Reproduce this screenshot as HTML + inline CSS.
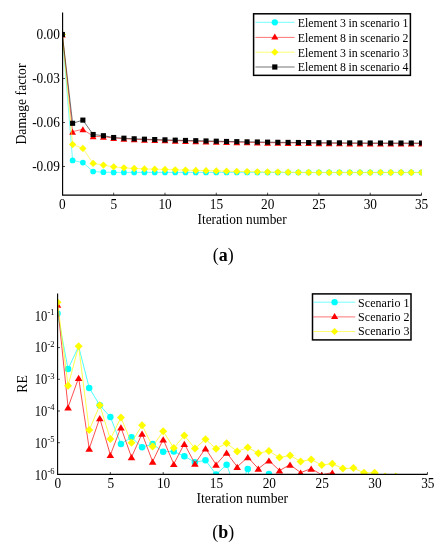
<!DOCTYPE html><html><head><meta charset="utf-8"><title>Figure</title><style>html,body{margin:0;padding:0;background:#fff}svg{display:block}</style></head><body><svg width="444" height="550" viewBox="0 0 444 550" font-family="Liberation Serif, serif" font-size="13.33px" fill="#000">
<rect width="444" height="550" fill="#fff"/>
<defs><clipPath id="ca"><rect x="62.0" y="12.6" width="359.80" height="182.50"/></clipPath>
<clipPath id="cb"><rect x="57.0" y="293.4" width="370.60" height="181.00"/></clipPath></defs>
<path d="M113.66 195.1v-2.4M164.97 195.1v-2.4M216.28 195.1v-2.4M267.59 195.1v-2.4M318.90 195.1v-2.4M370.21 195.1v-2.4M421.52 195.1v-2.4M62.6 34.5h2.4M62.6 78.5h2.4M62.6 122.5h2.4M62.6 166.5h2.4" stroke="#000" stroke-width="0.7" fill="none"/>
<g clip-path="url(#ca)">
<polyline points="62.35,34.50 72.61,160.40 82.87,162.60 93.14,171.50 103.40,172.20 113.66,172.40 123.92,172.40 134.18,172.40 144.45,172.40 154.71,172.40 164.97,172.40 175.23,172.40 185.49,172.40 195.76,172.40 206.02,172.40 216.28,172.40 226.54,172.40 236.80,172.40 247.07,172.40 257.33,172.40 267.59,172.40 277.85,172.40 288.11,172.40 298.38,172.40 308.64,172.40 318.90,172.40 329.16,172.40 339.42,172.40 349.69,172.40 359.95,172.40 370.21,172.40 380.47,172.40 390.73,172.40 401.00,172.40 411.26,172.40 421.52,172.40" fill="none" stroke="#0ff" stroke-width="0.55"/>
<circle cx="62.35" cy="34.50" r="2.85" fill="#0ff"/><circle cx="72.61" cy="160.40" r="2.85" fill="#0ff"/><circle cx="82.87" cy="162.60" r="2.85" fill="#0ff"/><circle cx="93.14" cy="171.50" r="2.85" fill="#0ff"/><circle cx="103.40" cy="172.20" r="2.85" fill="#0ff"/><circle cx="113.66" cy="172.40" r="2.85" fill="#0ff"/><circle cx="123.92" cy="172.40" r="2.85" fill="#0ff"/><circle cx="134.18" cy="172.40" r="2.85" fill="#0ff"/><circle cx="144.45" cy="172.40" r="2.85" fill="#0ff"/><circle cx="154.71" cy="172.40" r="2.85" fill="#0ff"/><circle cx="164.97" cy="172.40" r="2.85" fill="#0ff"/><circle cx="175.23" cy="172.40" r="2.85" fill="#0ff"/><circle cx="185.49" cy="172.40" r="2.85" fill="#0ff"/><circle cx="195.76" cy="172.40" r="2.85" fill="#0ff"/><circle cx="206.02" cy="172.40" r="2.85" fill="#0ff"/><circle cx="216.28" cy="172.40" r="2.85" fill="#0ff"/><circle cx="226.54" cy="172.40" r="2.85" fill="#0ff"/><circle cx="236.80" cy="172.40" r="2.85" fill="#0ff"/><circle cx="247.07" cy="172.40" r="2.85" fill="#0ff"/><circle cx="257.33" cy="172.40" r="2.85" fill="#0ff"/><circle cx="267.59" cy="172.40" r="2.85" fill="#0ff"/><circle cx="277.85" cy="172.40" r="2.85" fill="#0ff"/><circle cx="288.11" cy="172.40" r="2.85" fill="#0ff"/><circle cx="298.38" cy="172.40" r="2.85" fill="#0ff"/><circle cx="308.64" cy="172.40" r="2.85" fill="#0ff"/><circle cx="318.90" cy="172.40" r="2.85" fill="#0ff"/><circle cx="329.16" cy="172.40" r="2.85" fill="#0ff"/><circle cx="339.42" cy="172.40" r="2.85" fill="#0ff"/><circle cx="349.69" cy="172.40" r="2.85" fill="#0ff"/><circle cx="359.95" cy="172.40" r="2.85" fill="#0ff"/><circle cx="370.21" cy="172.40" r="2.85" fill="#0ff"/><circle cx="380.47" cy="172.40" r="2.85" fill="#0ff"/><circle cx="390.73" cy="172.40" r="2.85" fill="#0ff"/><circle cx="401.00" cy="172.40" r="2.85" fill="#0ff"/><circle cx="411.26" cy="172.40" r="2.85" fill="#0ff"/><circle cx="421.52" cy="172.40" r="2.85" fill="#0ff"/>
<polyline points="62.35,34.50 72.61,131.65 82.87,129.25 93.14,136.30 103.40,136.80 113.66,138.00 123.92,138.70 134.18,139.30 144.45,139.70 154.71,140.05 164.97,140.35 175.23,140.65 185.49,140.95 195.76,141.20 206.02,141.45 216.28,141.70 226.54,141.95 236.80,142.15 247.07,142.35 257.33,142.50 267.59,142.65 277.85,142.80 288.11,142.90 298.38,143.00 308.64,143.10 318.90,143.20 329.16,143.28 339.42,143.35 349.69,143.40 359.95,143.45 370.21,143.50 380.47,143.52 390.73,143.55 401.00,143.55 411.26,143.55 421.52,143.55" fill="none" stroke="#f00" stroke-width="0.55"/>
<path d="M62.35 31.50L65.75 37.50H58.95Z" fill="#f00"/><path d="M72.61 128.65L76.01 134.65H69.21Z" fill="#f00"/><path d="M82.87 126.25L86.27 132.25H79.47Z" fill="#f00"/><path d="M93.14 133.30L96.54 139.30H89.74Z" fill="#f00"/><path d="M103.40 133.80L106.80 139.80H100.00Z" fill="#f00"/><path d="M113.66 135.00L117.06 141.00H110.26Z" fill="#f00"/><path d="M123.92 135.70L127.32 141.70H120.52Z" fill="#f00"/><path d="M134.18 136.30L137.58 142.30H130.78Z" fill="#f00"/><path d="M144.45 136.70L147.85 142.70H141.05Z" fill="#f00"/><path d="M154.71 137.05L158.11 143.05H151.31Z" fill="#f00"/><path d="M164.97 137.35L168.37 143.35H161.57Z" fill="#f00"/><path d="M175.23 137.65L178.63 143.65H171.83Z" fill="#f00"/><path d="M185.49 137.95L188.89 143.95H182.09Z" fill="#f00"/><path d="M195.76 138.20L199.16 144.20H192.36Z" fill="#f00"/><path d="M206.02 138.45L209.42 144.45H202.62Z" fill="#f00"/><path d="M216.28 138.70L219.68 144.70H212.88Z" fill="#f00"/><path d="M226.54 138.95L229.94 144.95H223.14Z" fill="#f00"/><path d="M236.80 139.15L240.20 145.15H233.40Z" fill="#f00"/><path d="M247.07 139.35L250.47 145.35H243.67Z" fill="#f00"/><path d="M257.33 139.50L260.73 145.50H253.93Z" fill="#f00"/><path d="M267.59 139.65L270.99 145.65H264.19Z" fill="#f00"/><path d="M277.85 139.80L281.25 145.80H274.45Z" fill="#f00"/><path d="M288.11 139.90L291.51 145.90H284.71Z" fill="#f00"/><path d="M298.38 140.00L301.78 146.00H294.98Z" fill="#f00"/><path d="M308.64 140.10L312.04 146.10H305.24Z" fill="#f00"/><path d="M318.90 140.20L322.30 146.20H315.50Z" fill="#f00"/><path d="M329.16 140.28L332.56 146.28H325.76Z" fill="#f00"/><path d="M339.42 140.35L342.82 146.35H336.02Z" fill="#f00"/><path d="M349.69 140.40L353.09 146.40H346.29Z" fill="#f00"/><path d="M359.95 140.45L363.35 146.45H356.55Z" fill="#f00"/><path d="M370.21 140.50L373.61 146.50H366.81Z" fill="#f00"/><path d="M380.47 140.52L383.87 146.52H377.07Z" fill="#f00"/><path d="M390.73 140.55L394.13 146.55H387.33Z" fill="#f00"/><path d="M401.00 140.55L404.40 146.55H397.60Z" fill="#f00"/><path d="M411.26 140.55L414.66 146.55H407.86Z" fill="#f00"/><path d="M421.52 140.55L424.92 146.55H418.12Z" fill="#f00"/>
<polyline points="62.35,34.50 72.61,144.50 82.87,148.40 93.14,163.40 103.40,165.10 113.66,166.80 123.92,167.80 134.18,168.50 144.45,168.90 154.71,169.20 164.97,169.50 175.23,169.80 185.49,170.10 195.76,170.40 206.02,170.70 216.28,170.90 226.54,171.20 236.80,171.40 247.07,171.60 257.33,171.80 267.59,172.00 277.85,172.10 288.11,172.25 298.38,172.40 308.64,172.50 318.90,172.55 329.16,172.55 339.42,172.55 349.69,172.55 359.95,172.55 370.21,172.55 380.47,172.45 390.73,172.50 401.00,172.50 411.26,172.50 421.52,172.50" fill="none" stroke="#ff0" stroke-width="0.55"/>
<path d="M62.35 30.85L66.00 34.50L62.35 38.15L58.70 34.50Z" fill="#ff0"/><path d="M72.61 140.85L76.26 144.50L72.61 148.15L68.96 144.50Z" fill="#ff0"/><path d="M82.87 144.75L86.52 148.40L82.87 152.05L79.22 148.40Z" fill="#ff0"/><path d="M93.14 159.75L96.79 163.40L93.14 167.05L89.49 163.40Z" fill="#ff0"/><path d="M103.40 161.45L107.05 165.10L103.40 168.75L99.75 165.10Z" fill="#ff0"/><path d="M113.66 163.15L117.31 166.80L113.66 170.45L110.01 166.80Z" fill="#ff0"/><path d="M123.92 164.15L127.57 167.80L123.92 171.45L120.27 167.80Z" fill="#ff0"/><path d="M134.18 164.85L137.83 168.50L134.18 172.15L130.53 168.50Z" fill="#ff0"/><path d="M144.45 165.25L148.10 168.90L144.45 172.55L140.80 168.90Z" fill="#ff0"/><path d="M154.71 165.55L158.36 169.20L154.71 172.85L151.06 169.20Z" fill="#ff0"/><path d="M164.97 165.85L168.62 169.50L164.97 173.15L161.32 169.50Z" fill="#ff0"/><path d="M175.23 166.15L178.88 169.80L175.23 173.45L171.58 169.80Z" fill="#ff0"/><path d="M185.49 166.45L189.14 170.10L185.49 173.75L181.84 170.10Z" fill="#ff0"/><path d="M195.76 166.75L199.41 170.40L195.76 174.05L192.11 170.40Z" fill="#ff0"/><path d="M206.02 167.05L209.67 170.70L206.02 174.35L202.37 170.70Z" fill="#ff0"/><path d="M216.28 167.25L219.93 170.90L216.28 174.55L212.63 170.90Z" fill="#ff0"/><path d="M226.54 167.55L230.19 171.20L226.54 174.85L222.89 171.20Z" fill="#ff0"/><path d="M236.80 167.75L240.45 171.40L236.80 175.05L233.15 171.40Z" fill="#ff0"/><path d="M247.07 167.95L250.72 171.60L247.07 175.25L243.42 171.60Z" fill="#ff0"/><path d="M257.33 168.15L260.98 171.80L257.33 175.45L253.68 171.80Z" fill="#ff0"/><path d="M267.59 168.35L271.24 172.00L267.59 175.65L263.94 172.00Z" fill="#ff0"/><path d="M277.85 168.45L281.50 172.10L277.85 175.75L274.20 172.10Z" fill="#ff0"/><path d="M288.11 168.60L291.76 172.25L288.11 175.90L284.46 172.25Z" fill="#ff0"/><path d="M298.38 168.75L302.03 172.40L298.38 176.05L294.73 172.40Z" fill="#ff0"/><path d="M308.64 168.85L312.29 172.50L308.64 176.15L304.99 172.50Z" fill="#ff0"/><path d="M318.90 168.90L322.55 172.55L318.90 176.20L315.25 172.55Z" fill="#ff0"/><path d="M329.16 168.90L332.81 172.55L329.16 176.20L325.51 172.55Z" fill="#ff0"/><path d="M339.42 168.90L343.07 172.55L339.42 176.20L335.77 172.55Z" fill="#ff0"/><path d="M349.69 168.90L353.34 172.55L349.69 176.20L346.04 172.55Z" fill="#ff0"/><path d="M359.95 168.90L363.60 172.55L359.95 176.20L356.30 172.55Z" fill="#ff0"/><path d="M370.21 168.90L373.86 172.55L370.21 176.20L366.56 172.55Z" fill="#ff0"/><path d="M380.47 168.80L384.12 172.45L380.47 176.10L376.82 172.45Z" fill="#ff0"/><path d="M390.73 168.85L394.38 172.50L390.73 176.15L387.08 172.50Z" fill="#ff0"/><path d="M401.00 168.85L404.65 172.50L401.00 176.15L397.35 172.50Z" fill="#ff0"/><path d="M411.26 168.85L414.91 172.50L411.26 176.15L407.61 172.50Z" fill="#ff0"/><path d="M421.52 168.85L425.17 172.50L421.52 176.15L417.87 172.50Z" fill="#ff0"/>
<polyline points="62.35,34.50 72.61,123.30 82.87,120.10 93.14,134.50 103.40,135.70 113.66,137.50 123.92,138.20 134.18,138.80 144.45,139.20 154.71,139.55 164.97,139.85 175.23,140.15 185.49,140.45 195.76,140.70 206.02,140.95 216.28,141.20 226.54,141.45 236.80,141.65 247.07,141.85 257.33,142.00 267.59,142.15 277.85,142.30 288.11,142.40 298.38,142.50 308.64,142.60 318.90,142.70 329.16,142.78 339.42,142.85 349.69,142.90 359.95,142.95 370.21,143.00 380.47,143.02 390.73,143.05 401.00,143.05 411.26,143.05 421.52,143.05" fill="none" stroke="#000" stroke-width="0.55"/>
<rect x="59.80" y="31.95" width="5.1" height="5.1" fill="#000"/><rect x="70.06" y="120.75" width="5.1" height="5.1" fill="#000"/><rect x="80.32" y="117.55" width="5.1" height="5.1" fill="#000"/><rect x="90.59" y="131.95" width="5.1" height="5.1" fill="#000"/><rect x="100.85" y="133.15" width="5.1" height="5.1" fill="#000"/><rect x="111.11" y="134.95" width="5.1" height="5.1" fill="#000"/><rect x="121.37" y="135.65" width="5.1" height="5.1" fill="#000"/><rect x="131.63" y="136.25" width="5.1" height="5.1" fill="#000"/><rect x="141.90" y="136.65" width="5.1" height="5.1" fill="#000"/><rect x="152.16" y="137.00" width="5.1" height="5.1" fill="#000"/><rect x="162.42" y="137.30" width="5.1" height="5.1" fill="#000"/><rect x="172.68" y="137.60" width="5.1" height="5.1" fill="#000"/><rect x="182.94" y="137.90" width="5.1" height="5.1" fill="#000"/><rect x="193.21" y="138.15" width="5.1" height="5.1" fill="#000"/><rect x="203.47" y="138.40" width="5.1" height="5.1" fill="#000"/><rect x="213.73" y="138.65" width="5.1" height="5.1" fill="#000"/><rect x="223.99" y="138.90" width="5.1" height="5.1" fill="#000"/><rect x="234.25" y="139.10" width="5.1" height="5.1" fill="#000"/><rect x="244.52" y="139.30" width="5.1" height="5.1" fill="#000"/><rect x="254.78" y="139.45" width="5.1" height="5.1" fill="#000"/><rect x="265.04" y="139.60" width="5.1" height="5.1" fill="#000"/><rect x="275.30" y="139.75" width="5.1" height="5.1" fill="#000"/><rect x="285.56" y="139.85" width="5.1" height="5.1" fill="#000"/><rect x="295.83" y="139.95" width="5.1" height="5.1" fill="#000"/><rect x="306.09" y="140.05" width="5.1" height="5.1" fill="#000"/><rect x="316.35" y="140.15" width="5.1" height="5.1" fill="#000"/><rect x="326.61" y="140.23" width="5.1" height="5.1" fill="#000"/><rect x="336.87" y="140.30" width="5.1" height="5.1" fill="#000"/><rect x="347.14" y="140.35" width="5.1" height="5.1" fill="#000"/><rect x="357.40" y="140.40" width="5.1" height="5.1" fill="#000"/><rect x="367.66" y="140.45" width="5.1" height="5.1" fill="#000"/><rect x="377.92" y="140.47" width="5.1" height="5.1" fill="#000"/><rect x="388.18" y="140.50" width="5.1" height="5.1" fill="#000"/><rect x="398.45" y="140.50" width="5.1" height="5.1" fill="#000"/><rect x="408.71" y="140.50" width="5.1" height="5.1" fill="#000"/><rect x="418.97" y="140.50" width="5.1" height="5.1" fill="#000"/>
</g>
<path d="M62.6 12.6V195.1H421.7" fill="none" stroke="#000" stroke-width="1.15"/>
<text transform="translate(62.45 208.70) scale(1 1.1)" text-anchor="middle">0</text>
<text transform="translate(113.76 208.70) scale(1 1.1)" text-anchor="middle">5</text>
<text transform="translate(165.07 208.70) scale(1 1.1)" text-anchor="middle">10</text>
<text transform="translate(216.38 208.70) scale(1 1.1)" text-anchor="middle">15</text>
<text transform="translate(267.69 208.70) scale(1 1.1)" text-anchor="middle">20</text>
<text transform="translate(319.00 208.70) scale(1 1.1)" text-anchor="middle">25</text>
<text transform="translate(370.31 208.70) scale(1 1.1)" text-anchor="middle">30</text>
<text transform="translate(421.62 208.70) scale(1 1.1)" text-anchor="middle">35</text>
<text transform="translate(59.95 38.90) scale(1 1.13)" text-anchor="end">0.00</text>
<text transform="translate(59.95 82.90) scale(1 1.13)" text-anchor="end">-0.03</text>
<text transform="translate(59.95 126.90) scale(1 1.13)" text-anchor="end">-0.06</text>
<text transform="translate(59.95 170.90) scale(1 1.13)" text-anchor="end">-0.09</text>
<text transform="translate(242.10 224.10) scale(1 1.13)" text-anchor="middle">Iteration number</text>
<text transform="translate(25.80 104.00) rotate(-90) scale(1.03 1.04)" text-anchor="middle">Damage factor</text>
<text transform="translate(223.20 260.50) scale(1 1.03)" text-anchor="middle" font-size="17.9px">(<tspan font-weight="bold">a</tspan>)</text>
<rect x="253.6" y="13.8" width="156.8" height="61.55" fill="#fff" stroke="#000" stroke-width="1.5"/>
<path d="M255.4 22.3H294.6" stroke="#0ff" stroke-width="0.55"/>
<circle cx="274.80" cy="22.30" r="3.15" fill="#0ff"/>
<text transform="translate(297.80 26.60) scale(1 1.14)" font-size="11.85px" word-spacing="-0.3">Element 3 in scenario 1</text>
<path d="M255.4 37.4H294.6" stroke="#f00" stroke-width="0.55"/>
<path d="M274.80 33.40L278.40 39.60H271.20Z" fill="#f00"/>
<text transform="translate(297.80 41.70) scale(1 1.14)" font-size="11.85px" word-spacing="-0.3">Element 8 in scenario 2</text>
<path d="M255.4 52.2H294.6" stroke="#ff0" stroke-width="0.55"/>
<path d="M274.80 48.60L278.40 52.20L274.80 55.80L271.20 52.20Z" fill="#ff0"/>
<text transform="translate(297.80 56.50) scale(1 1.14)" font-size="11.85px" word-spacing="-0.3">Element 3 in scenario 3</text>
<path d="M255.4 67.0H294.6" stroke="#000" stroke-width="0.55"/>
<rect x="272.20" y="64.40" width="5.2" height="5.2" fill="#000"/>
<text transform="translate(297.80 71.30) scale(1 1.14)" font-size="11.85px" word-spacing="-0.3">Element 8 in scenario 4</text>
<path d="M110.35 474.4v-2.4M163.20 474.4v-2.4M216.05 474.4v-2.4M268.90 474.4v-2.4M321.75 474.4v-2.4M374.60 474.4v-2.4M427.45 474.4v-2.4M57.6 315.90h2.4M57.6 347.60h2.4M57.6 379.30h2.4M57.6 411.00h2.4M57.6 442.70h2.4" stroke="#000" stroke-width="0.7" fill="none"/>
<g clip-path="url(#cb)">
<polyline points="57.50,313.40 68.07,369.00 78.64,346.40 89.21,387.90 99.78,405.30 110.35,417.00 120.92,444.00 131.49,437.30 142.06,447.20 152.63,444.10 163.20,451.70 173.77,451.40 184.34,456.20 194.91,462.20 205.48,460.30 216.05,474.40 226.62,464.80 237.19,493.00 247.76,468.90 258.33,520.00 268.90,473.90 279.47,500.00" fill="none" stroke="#0ff" stroke-width="0.7"/>
<circle cx="57.50" cy="313.40" r="3.25" fill="#0ff"/><circle cx="68.07" cy="369.00" r="3.25" fill="#0ff"/><circle cx="89.21" cy="387.90" r="3.25" fill="#0ff"/><circle cx="99.78" cy="405.30" r="3.25" fill="#0ff"/><circle cx="110.35" cy="417.00" r="3.25" fill="#0ff"/><circle cx="120.92" cy="444.00" r="3.25" fill="#0ff"/><circle cx="131.49" cy="437.30" r="3.25" fill="#0ff"/><circle cx="142.06" cy="447.20" r="3.25" fill="#0ff"/><circle cx="152.63" cy="444.10" r="3.25" fill="#0ff"/><circle cx="163.20" cy="451.70" r="3.25" fill="#0ff"/><circle cx="173.77" cy="451.40" r="3.25" fill="#0ff"/><circle cx="184.34" cy="456.20" r="3.25" fill="#0ff"/><circle cx="194.91" cy="462.20" r="3.25" fill="#0ff"/><circle cx="205.48" cy="460.30" r="3.25" fill="#0ff"/><circle cx="216.05" cy="474.40" r="3.25" fill="#0ff"/><circle cx="226.62" cy="464.80" r="3.25" fill="#0ff"/><circle cx="237.19" cy="493.00" r="3.25" fill="#0ff"/><circle cx="247.76" cy="468.90" r="3.25" fill="#0ff"/><circle cx="258.33" cy="520.00" r="3.25" fill="#0ff"/><circle cx="268.90" cy="473.90" r="3.25" fill="#0ff"/><circle cx="279.47" cy="500.00" r="3.25" fill="#0ff"/>
<polyline points="57.50,304.60 68.07,407.30 78.64,377.80 89.21,448.70 99.78,418.10 110.35,455.00 120.92,427.40 131.49,457.20 142.06,433.70 152.63,461.60 163.20,439.30 173.77,464.00 184.34,443.80 194.91,463.60 205.48,448.40 216.05,464.60 226.62,452.70 237.19,466.80 247.76,457.20 258.33,468.60 268.90,460.50 279.47,470.50 290.04,464.70 300.61,472.60 311.18,468.60 321.75,474.80 332.32,472.60 342.89,480.00 353.46,477.60 364.03,485.00" fill="none" stroke="#f00" stroke-width="0.7"/>
<path d="M57.50 301.50L61.30 307.70H53.70Z" fill="#f00"/><path d="M68.07 404.20L71.87 410.40H64.27Z" fill="#f00"/><path d="M78.64 374.70L82.44 380.90H74.84Z" fill="#f00"/><path d="M89.21 445.60L93.01 451.80H85.41Z" fill="#f00"/><path d="M99.78 415.00L103.58 421.20H95.98Z" fill="#f00"/><path d="M110.35 451.90L114.15 458.10H106.55Z" fill="#f00"/><path d="M120.92 424.30L124.72 430.50H117.12Z" fill="#f00"/><path d="M131.49 454.10L135.29 460.30H127.69Z" fill="#f00"/><path d="M142.06 430.60L145.86 436.80H138.26Z" fill="#f00"/><path d="M152.63 458.50L156.43 464.70H148.83Z" fill="#f00"/><path d="M163.20 436.20L167.00 442.40H159.40Z" fill="#f00"/><path d="M173.77 460.90L177.57 467.10H169.97Z" fill="#f00"/><path d="M184.34 440.70L188.14 446.90H180.54Z" fill="#f00"/><path d="M194.91 460.50L198.71 466.70H191.11Z" fill="#f00"/><path d="M205.48 445.30L209.28 451.50H201.68Z" fill="#f00"/><path d="M216.05 461.50L219.85 467.70H212.25Z" fill="#f00"/><path d="M226.62 449.60L230.42 455.80H222.82Z" fill="#f00"/><path d="M237.19 463.70L240.99 469.90H233.39Z" fill="#f00"/><path d="M247.76 454.10L251.56 460.30H243.96Z" fill="#f00"/><path d="M258.33 465.50L262.13 471.70H254.53Z" fill="#f00"/><path d="M268.90 457.40L272.70 463.60H265.10Z" fill="#f00"/><path d="M279.47 467.40L283.27 473.60H275.67Z" fill="#f00"/><path d="M290.04 461.60L293.84 467.80H286.24Z" fill="#f00"/><path d="M300.61 469.50L304.41 475.70H296.81Z" fill="#f00"/><path d="M311.18 465.50L314.98 471.70H307.38Z" fill="#f00"/><path d="M321.75 471.70L325.55 477.90H317.95Z" fill="#f00"/><path d="M332.32 469.50L336.12 475.70H328.52Z" fill="#f00"/><path d="M342.89 476.90L346.69 483.10H339.09Z" fill="#f00"/><path d="M353.46 474.50L357.26 480.70H349.66Z" fill="#f00"/><path d="M364.03 481.90L367.83 488.10H360.23Z" fill="#f00"/>
<polyline points="57.50,302.20 68.07,385.70 78.64,346.20 89.21,430.10 99.78,405.30 110.35,439.10 120.92,417.60 131.49,442.70 142.06,425.20 152.63,446.50 163.20,431.20 173.77,448.10 184.34,435.50 194.91,448.50 205.48,439.20 216.05,448.70 226.62,443.30 237.19,451.40 247.76,447.50 258.33,453.20 268.90,451.10 279.47,457.50 290.04,455.50 300.61,461.40 311.18,459.60 321.75,465.00 332.32,463.70 342.89,468.60 353.46,468.10 364.03,472.80 374.60,472.80 385.17,476.60 395.74,476.60 406.31,480.00" fill="none" stroke="#ff0" stroke-width="0.7"/>
<path d="M57.50 298.20L61.50 302.20L57.50 306.20L53.50 302.20Z" fill="#ff0"/><path d="M68.07 381.70L72.07 385.70L68.07 389.70L64.07 385.70Z" fill="#ff0"/><path d="M78.64 342.20L82.64 346.20L78.64 350.20L74.64 346.20Z" fill="#ff0"/><path d="M89.21 426.10L93.21 430.10L89.21 434.10L85.21 430.10Z" fill="#ff0"/><path d="M99.78 401.30L103.78 405.30L99.78 409.30L95.78 405.30Z" fill="#ff0"/><path d="M110.35 435.10L114.35 439.10L110.35 443.10L106.35 439.10Z" fill="#ff0"/><path d="M120.92 413.60L124.92 417.60L120.92 421.60L116.92 417.60Z" fill="#ff0"/><path d="M131.49 438.70L135.49 442.70L131.49 446.70L127.49 442.70Z" fill="#ff0"/><path d="M142.06 421.20L146.06 425.20L142.06 429.20L138.06 425.20Z" fill="#ff0"/><path d="M152.63 442.50L156.63 446.50L152.63 450.50L148.63 446.50Z" fill="#ff0"/><path d="M163.20 427.20L167.20 431.20L163.20 435.20L159.20 431.20Z" fill="#ff0"/><path d="M173.77 444.10L177.77 448.10L173.77 452.10L169.77 448.10Z" fill="#ff0"/><path d="M184.34 431.50L188.34 435.50L184.34 439.50L180.34 435.50Z" fill="#ff0"/><path d="M194.91 444.50L198.91 448.50L194.91 452.50L190.91 448.50Z" fill="#ff0"/><path d="M205.48 435.20L209.48 439.20L205.48 443.20L201.48 439.20Z" fill="#ff0"/><path d="M216.05 444.70L220.05 448.70L216.05 452.70L212.05 448.70Z" fill="#ff0"/><path d="M226.62 439.30L230.62 443.30L226.62 447.30L222.62 443.30Z" fill="#ff0"/><path d="M237.19 447.40L241.19 451.40L237.19 455.40L233.19 451.40Z" fill="#ff0"/><path d="M247.76 443.50L251.76 447.50L247.76 451.50L243.76 447.50Z" fill="#ff0"/><path d="M258.33 449.20L262.33 453.20L258.33 457.20L254.33 453.20Z" fill="#ff0"/><path d="M268.90 447.10L272.90 451.10L268.90 455.10L264.90 451.10Z" fill="#ff0"/><path d="M279.47 453.50L283.47 457.50L279.47 461.50L275.47 457.50Z" fill="#ff0"/><path d="M290.04 451.50L294.04 455.50L290.04 459.50L286.04 455.50Z" fill="#ff0"/><path d="M300.61 457.40L304.61 461.40L300.61 465.40L296.61 461.40Z" fill="#ff0"/><path d="M311.18 455.60L315.18 459.60L311.18 463.60L307.18 459.60Z" fill="#ff0"/><path d="M321.75 461.00L325.75 465.00L321.75 469.00L317.75 465.00Z" fill="#ff0"/><path d="M332.32 459.70L336.32 463.70L332.32 467.70L328.32 463.70Z" fill="#ff0"/><path d="M342.89 464.60L346.89 468.60L342.89 472.60L338.89 468.60Z" fill="#ff0"/><path d="M353.46 464.10L357.46 468.10L353.46 472.10L349.46 468.10Z" fill="#ff0"/><path d="M364.03 468.80L368.03 472.80L364.03 476.80L360.03 472.80Z" fill="#ff0"/><path d="M374.60 468.80L378.60 472.80L374.60 476.80L370.60 472.80Z" fill="#ff0"/><path d="M385.17 472.60L389.17 476.60L385.17 480.60L381.17 476.60Z" fill="#ff0"/><path d="M395.74 472.60L399.74 476.60L395.74 480.60L391.74 476.60Z" fill="#ff0"/><path d="M406.31 476.00L410.31 480.00L406.31 484.00L402.31 480.00Z" fill="#ff0"/>
</g>
<path d="M57.6 293.4V474.4H427.5" fill="none" stroke="#000" stroke-width="1.1"/>
<text transform="translate(57.90 487.90) scale(1 1.08)" text-anchor="middle">0</text>
<text transform="translate(110.75 487.90) scale(1 1.08)" text-anchor="middle">5</text>
<text transform="translate(163.60 487.90) scale(1 1.08)" text-anchor="middle">10</text>
<text transform="translate(216.45 487.90) scale(1 1.08)" text-anchor="middle">15</text>
<text transform="translate(269.30 487.90) scale(1 1.08)" text-anchor="middle">20</text>
<text transform="translate(322.15 487.90) scale(1 1.08)" text-anchor="middle">25</text>
<text transform="translate(375.00 487.90) scale(1 1.08)" text-anchor="middle">30</text>
<text transform="translate(427.85 487.90) scale(1 1.08)" text-anchor="middle">35</text>
<text transform="translate(47.30 320.75) scale(1 1.14)" text-anchor="end" font-size="12.6px">10</text>
<text transform="translate(47.50 315.20) scale(1 0.93)" font-size="8.5px">-1</text>
<text transform="translate(47.30 352.45) scale(1 1.14)" text-anchor="end" font-size="12.6px">10</text>
<text transform="translate(47.50 346.90) scale(1 0.93)" font-size="8.5px">-2</text>
<text transform="translate(47.30 384.15) scale(1 1.14)" text-anchor="end" font-size="12.6px">10</text>
<text transform="translate(47.50 378.60) scale(1 0.93)" font-size="8.5px">-3</text>
<text transform="translate(47.30 415.85) scale(1 1.14)" text-anchor="end" font-size="12.6px">10</text>
<text transform="translate(47.50 410.30) scale(1 0.93)" font-size="8.5px">-4</text>
<text transform="translate(47.30 447.55) scale(1 1.14)" text-anchor="end" font-size="12.6px">10</text>
<text transform="translate(47.50 442.00) scale(1 0.93)" font-size="8.5px">-5</text>
<text transform="translate(47.30 479.85) scale(1 1.14)" text-anchor="end" font-size="12.6px">10</text>
<text transform="translate(47.50 474.30) scale(1 0.93)" font-size="8.5px">-6</text>
<text transform="translate(242.30 503.00) scale(1.028 1.1)" text-anchor="middle">Iteration number</text>
<text transform="translate(27.20 384.00) rotate(-90) scale(1.035 1.04)" text-anchor="middle">RE</text>
<text transform="translate(223.20 538.00) scale(1 1.03)" text-anchor="middle" font-size="17.9px">(<tspan font-weight="bold">b</tspan>)</text>
<rect x="312.5" y="293.9" width="98.5" height="46.0" fill="#fff" stroke="#000" stroke-width="1.5"/>
<path d="M313.2 302.2H355.2" stroke="#0ff" stroke-width="0.55"/>
<circle cx="334.60" cy="302.20" r="3.15" fill="#0ff"/>
<text transform="translate(358.05 306.55) scale(1 1.12)" font-size="12px" letter-spacing="0.06">Scenario 1</text>
<path d="M313.2 316.9H355.2" stroke="#f00" stroke-width="0.55"/>
<path d="M334.60 312.90L338.20 319.10H331.00Z" fill="#f00"/>
<text transform="translate(358.05 320.85) scale(1 1.12)" font-size="12px" letter-spacing="0.06">Scenario 2</text>
<path d="M313.2 331.5H355.2" stroke="#ff0" stroke-width="0.55"/>
<path d="M334.60 327.90L338.20 331.50L334.60 335.10L331.00 331.50Z" fill="#ff0"/>
<text transform="translate(358.05 335.45) scale(1 1.12)" font-size="12px" letter-spacing="0.06">Scenario 3</text>
</svg></body></html>
